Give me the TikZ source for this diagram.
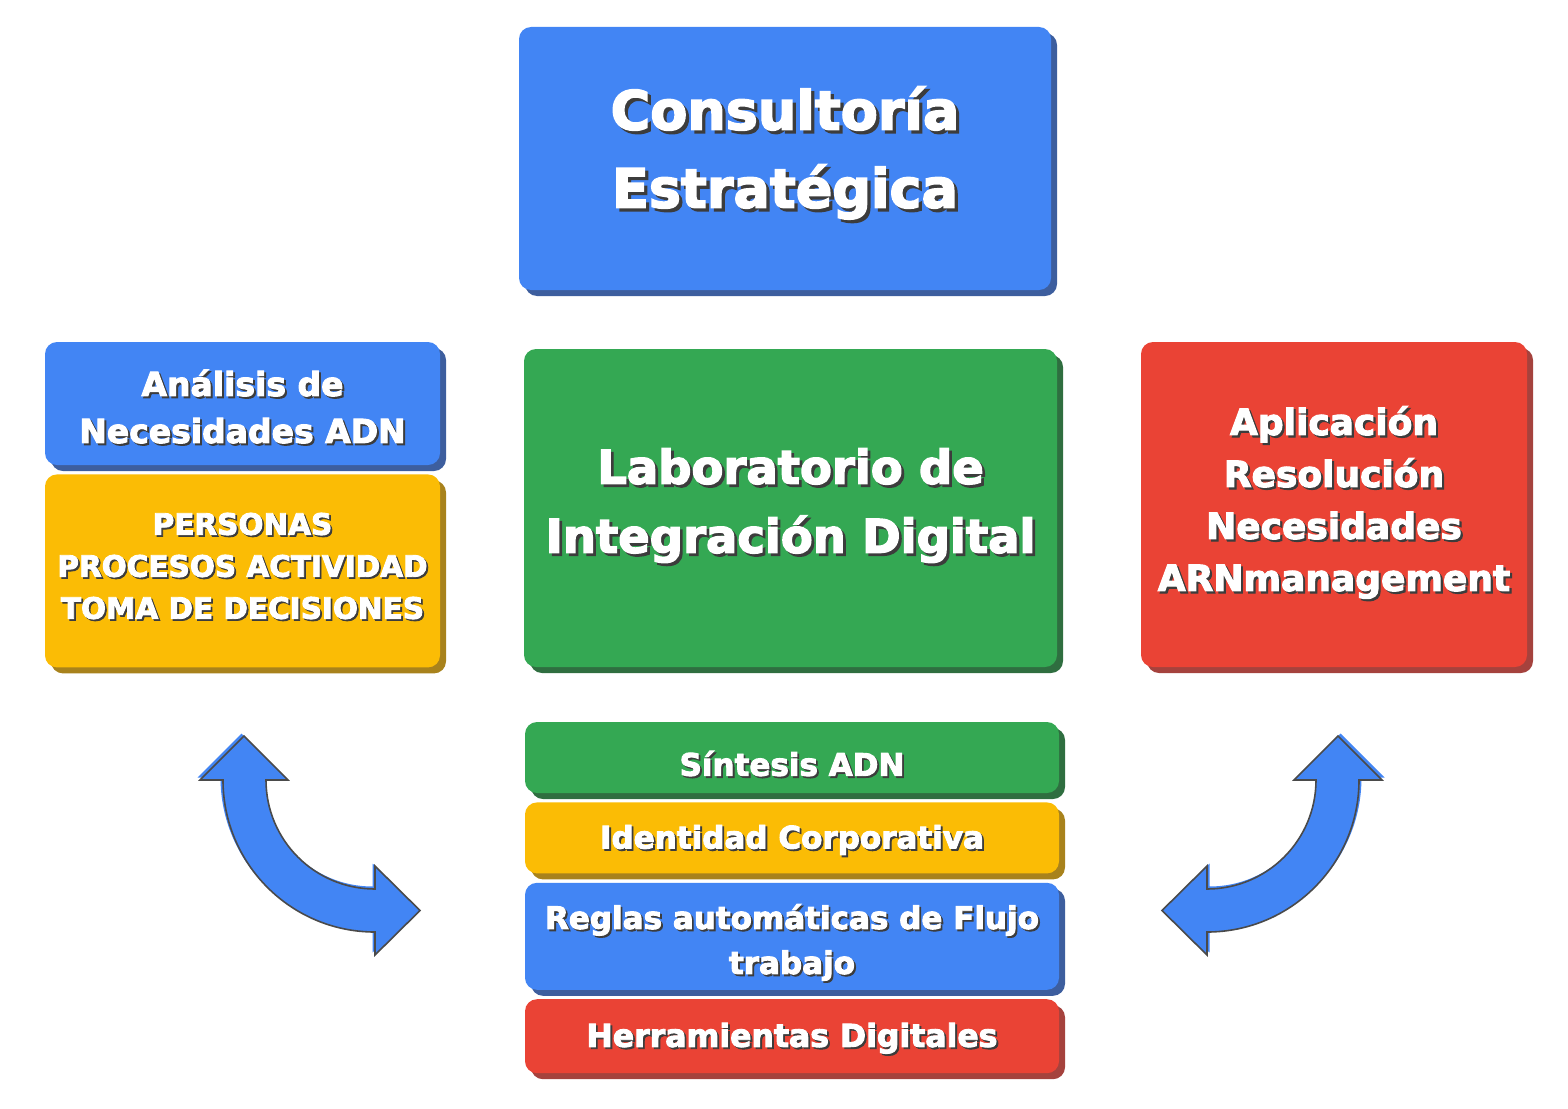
\documentclass[tikz,border=0pt]{standalone}
\usepackage{fontspec}
\setmainfont{DejaVu Sans}
\newfontfamily\cardfont{DejaVu Sans Bold}[FakeBold=3]
\usepackage{tikz}
\usetikzlibrary{positioning, shadows}
\definecolor{gblue}{HTML}{4285F4}
\definecolor{gbluedark}{HTML}{3D5E9E}
\definecolor{ggreen}{HTML}{34A853}
\definecolor{ggreendark}{HTML}{2F6E40}
\definecolor{gyellow}{HTML}{FBBC05}
\definecolor{gyellowdark}{HTML}{A8821C}
\definecolor{gred}{HTML}{EA4335}
\definecolor{greddark}{HTML}{A5423D}
\definecolor{txtshade}{HTML}{3C3C3C}
\definecolor{arrowedge}{HTML}{4A4A4A}
% white text with a dark offset copy behind it
\newcommand{\sh}[1]{\rlap{\color{txtshade}\hspace{0.06em}\raisebox{-0.06em}{#1}}#1}
% outline of the curved two-way arrow, centred on its arc centre
\newcommand{\swapoutline}{(-131,-44) -- (-87,0) -- (-109,0) arc[start angle=180, end angle=90, radius=109]
    -- (0,86) -- (45,130.5) -- (0,175) -- (0,152) arc[start angle=90, end angle=180, radius=152] -- (-175,0) -- cycle}

\begin{document}
\begin{tikzpicture}[
    x=1pt, y=-1pt,
    node distance=9pt,
    card/.style={rectangle, rounded corners=12pt, inner sep=0pt},
    bluecard/.style={card, fill=gblue, drop shadow={shadow xshift=6pt, shadow yshift=-6pt, fill=gbluedark, opacity=1}},
    greencard/.style={card, fill=ggreen, drop shadow={shadow xshift=6pt, shadow yshift=-6pt, fill=ggreendark, opacity=1}},
    yellowcard/.style={card, fill=gyellow, drop shadow={shadow xshift=6pt, shadow yshift=-6pt, fill=gyellowdark, opacity=1}},
    redcard/.style={card, fill=gred, drop shadow={shadow xshift=6pt, shadow yshift=-6pt, fill=greddark, opacity=1}},
    cardtext/.style={text=white, align=center, inner sep=0pt},
    swaparrow/.pic={
        \fill[gblue, shift={(-2.5,-2.5)}] \swapoutline;
        \draw[fill=gblue, draw=arrowedge, line width=1.6pt] \swapoutline;
    }
]
    \useasboundingbox (0,0) rectangle (1568,1108);

    % top
    \node[bluecard, minimum width=532pt, minimum height=263pt] (consult) at (785,158.5) {};
    \node[cardtext, font=\cardfont\fontsize{54}{78}\selectfont, yshift=4pt] (consulttext) at (consult) {\sh{Consultoría}\\\sh{Estratégica}};

    % left column
    \node[bluecard, minimum width=395pt, minimum height=123pt] (needs) at (242.5,403.5) {};
    \node[cardtext, font=\cardfont\fontsize{33}{47}\selectfont, yshift=-4pt] (needstext) at (needs) {\sh{Análisis de}\\\sh{Necesidades ADN}};
    \node[yellowcard, below=of needs, minimum width=395pt, minimum height=193pt] (pillars) {};
    \node[cardtext, font=\cardfont\fontsize{29.5}{42}\selectfont, yshift=4pt] (pillarstext) at (pillars) {\sh{PERSONAS}\\\sh{PROCESOS ACTIVIDAD}\\\sh{TOMA DE DECISIONES}};

    % centre
    \node[greencard, minimum width=533pt, minimum height=318pt] (lab) at (790.5,508) {};
    \node[cardtext, font=\cardfont\fontsize{46.5}{69}\selectfont, yshift=1pt] (labtext) at (lab) {\sh{Laboratorio de}\\\sh{Integración Digital}};

    % right
    \node[redcard, minimum width=386pt, minimum height=325pt] (apply) at (1334,504.5) {};
    \node[cardtext, font=\cardfont\fontsize{36}{52}\selectfont, yshift=1pt] (applytext) at (apply) {\sh{Aplicación}\\\sh{Resolución}\\\sh{Necesidades}\\\sh{ARNmanagement}};

    % bottom stack
    \node[greencard, minimum width=534pt, minimum height=71pt] (synth) at (792,757.5) {};
    \node[cardtext, font=\cardfont\fontsize{31}{45}\selectfont, yshift=-7pt] (synthtext) at (synth) {\sh{Síntesis ADN}};
    \node[yellowcard, below=of synth, minimum width=534pt, minimum height=71pt] (ident) {};
    \node[cardtext, font=\cardfont\fontsize{31}{45}\selectfont, yshift=-3pt] (identtext) at (ident) {\sh{Identidad Corporativa}};
    \node[bluecard, below=of ident, minimum width=534pt, minimum height=107pt] (rules) {};
    \node[cardtext, font=\cardfont\fontsize{31}{45}\selectfont, yshift=-7pt] (rulestext) at (rules) {\sh{Reglas automáticas de Flujo}\\\sh{trabajo}};
    \node[redcard, below=of rules, minimum width=534pt, minimum height=74pt] (tools) {};
    \node[cardtext, font=\cardfont\fontsize{31.5}{45}\selectfont, yshift=-3pt] (toolstext) at (tools) {\sh{Herramientas Digitales}};

    % curved two-way arrows
    \pic (leftswap) at (375,780) {swaparrow};
    \pic[xscale=-1] (rightswap) at (1207,780) {swaparrow};
\end{tikzpicture}
\end{document}
